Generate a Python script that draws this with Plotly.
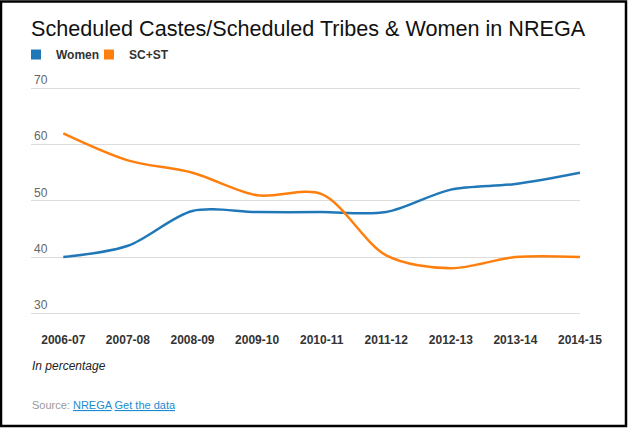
import plotly.graph_objects as go

years = ["2006-07", "2007-08", "2008-09", "2009-10", "2010-11",
         "2011-12", "2012-13", "2013-14", "2014-15"]
women = [40, 42, 48.2, 48, 48, 48, 52, 53, 55]
scst = [62, 57.2, 55, 51, 51.2, 40.3, 38, 40, 40]
yticks = [30, 40, 50, 60, 70]

BLUE = "#2178b8"
ORANGE = "#ff7f0e"
W, H = 628, 428
YLO, YHI = 29.5, 74
UNIT = 225 / 40.0
L, R = 31, 48
T = 88 - (YHI - 70) * UNIT
B = H - (313 + (30 - YLO) * UNIT)
pw, ph = W - L - R, H - T - B

def px_x(p):
    return (p - L) / pw

def px_y(p):
    return (H - B - p) / ph

fig = go.Figure()
for name, vals, col in [("Women", women, BLUE), ("SC+ST", scst, ORANGE)]:
    fig.add_trace(go.Scatter(
        x=list(range(len(years))), y=vals, mode="lines", name=name,
        line=dict(color=col, width=2.5, shape="spline", smoothing=0.9),
        showlegend=False, hoverinfo="skip"))
for name, col, lg in [("Women", BLUE, "legend"), ("SC+ST", ORANGE, "legend2")]:
    fig.add_trace(go.Scatter(
        x=[None], y=[None], mode="markers", name=name, legend=lg,
        marker=dict(symbol="square", size=10, color=col)))

leg_common = dict(orientation="h", xanchor="left", yanchor="middle",
                  y=px_y(54), font=dict(size=12, color="#333", weight="bold"),
                  itemwidth=30, bgcolor="rgba(0,0,0,0)")

fig.update_layout(
    width=W, height=H,
    margin=dict(l=L, r=R, t=T, b=B),
    paper_bgcolor="white", plot_bgcolor="white",
    font=dict(family="Liberation Sans, Arial, sans-serif"),
    title=dict(text="Scheduled Castes/Scheduled Tribes &amp; Women in NREGA",
               x=31 / W, xanchor="left", xref="container",
               y=1 - 28 / H, yanchor="middle", yref="container",
               font=dict(size=21.6, color="#111")),
    legend=dict(x=px_x(16), **leg_common),
    legend2=dict(x=px_x(89), **leg_common),
    xaxis=dict(range=[-0.5, 8], tickmode="array",
               tickvals=list(range(len(years))), ticktext=years,
               showgrid=False, zeroline=False, showline=False,
               tickfont=dict(size=12, color="#333", weight="bold"),
               ticklabelstandoff=15, fixedrange=True),
    yaxis=dict(range=[YLO, YHI], tickvals=yticks, showgrid=True,
               gridcolor="#dcdcdc", gridwidth=1, zeroline=False,
               showline=False, ticklabelposition="inside top",
               tickfont=dict(size=12, color="#666"), fixedrange=True),
    annotations=[
        dict(text="<i>In percentage</i>", xref="paper", yref="paper",
             x=px_x(30), y=px_y(366), xanchor="left", yanchor="middle",
             showarrow=False, font=dict(size=12, color="#222")),
        dict(text="Source: <span style='color:#1a8bd0'><u>NREGA</u></span> "
                  "<span style='color:#1a8bd0'><u>Get the data</u></span>",
             xref="paper", yref="paper", x=px_x(30), y=px_y(405),
             xanchor="left", yanchor="middle", showarrow=False,
             font=dict(size=11, color="#999")),
    ],
    shapes=[dict(type="rect", xref="paper", yref="paper",
                 x0=px_x(1), x1=px_x(626), y0=px_y(426), y1=px_y(1),
                 line=dict(color="#000", width=2.5), fillcolor="rgba(0,0,0,0)")],
)

fig.write_html("out.html", config={"displayModeBar": False})
